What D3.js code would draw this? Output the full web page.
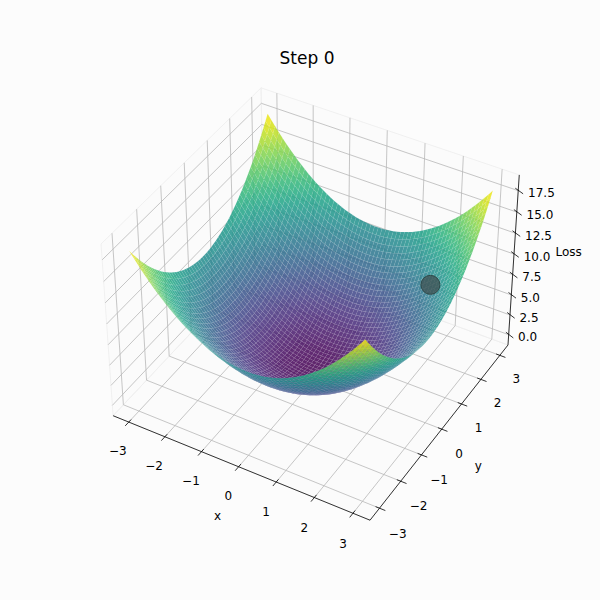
<!DOCTYPE html>
<html><head><meta charset="utf-8">
<script src="https://cdn.jsdelivr.net/npm/d3@7"></script>
<style>body{margin:0;background:#fcfcfc}svg{display:block}text{font-family:"DejaVu Sans",sans-serif}</style>
</head><body><svg id="c" width="600" height="600"></svg>
<script>
const title = "Step 0";
const xTicks = [-3,-2,-1,0,1,2,3];
const yTicks = [-3,-2,-1,0,1,2,3];
const zTicks = [0,2.5,5,7.5,10,12.5,15,17.5];
const zTickLabels = ["0.0","2.5","5.0","7.5","10.0","12.5","15.0","17.5"];
const gridX = d3.range(-3, 3.0001, 6/59);   // surface sample coordinates
const gridY = d3.range(-3, 3.0001, 6/59);
const ballPoint = [2.0, 2.0];
const lossFn = (x,y) => x*x + y*y;
const xLim = [-3.3, 3.3], yLim = [-3.3, 3.3], zLim = [-0.9, 18.9];

const svg = d3.select("#c");
svg.append("rect").attr("width",600).attr("height",600).attr("fill","#fcfcfc");

// matplotlib-like projection
const elev = 40*Math.PI/180, azim = -60*Math.PI/180, dist = 10;
const nrm = Math.hypot(4,4,3), f = 1.8294640721620434/nrm;
const box = [4*f, 4*f, 3*f];
const R = box.map(b=>b/2);
const ps = [Math.cos(elev)*Math.cos(azim), Math.cos(elev)*Math.sin(azim), Math.sin(elev)];
const eye = R.map((r,i)=>r+dist*ps[i]);
const cross=(a,b)=>[a[1]*b[2]-a[2]*b[1],a[2]*b[0]-a[0]*b[2],a[0]*b[1]-a[1]*b[0]];
const unit=a=>{const n=Math.hypot(...a);return a.map(v=>v/n);};
const w = unit(eye.map((e,i)=>e-R[i]));
const u = unit(cross([0,0,1], w));
const v = cross(w,u);
const sxN = d3.scaleLinear().domain(xLim).range([0,box[0]]);
const syN = d3.scaleLinear().domain(yLim).range([0,box[1]]);
const szN = d3.scaleLinear().domain(zLim).range([0,box[2]]);
const px = d3.scaleLinear().domain([-0.095,0.09]).range([76.5,538.5]);
const py = d3.scaleLinear().domain([-0.095,0.09]).range([534,72]);
function P(x,y,z){
  const p=[sxN(x)-eye[0], syN(y)-eye[1], szN(z)-eye[2]];
  const vx=p[0]*u[0]+p[1]*u[1]+p[2]*u[2];
  const vy=p[0]*v[0]+p[1]*v[1]+p[2]*v[2];
  const vz=p[0]*w[0]+p[1]*w[1]+p[2]*w[2];
  return [px(vx/-vz), py(vy/-vz), -vz];
}
// pane bounds
const pad = l => {const d=(l[1]-l[0])/12/4; return [l[0]-d, l[1]+d];};
const [x0,x1]=pad(xLim),[y0,y1]=pad(yLim),[z0,z1]=pad(zLim);
const line = d3.line();
const poly = pts => line(pts.map(p=>P(...p).slice(0,2)))+"Z";
// panes
const g = svg.append("g");
[[[x0,y0,z0],[x1,y0,z0],[x1,y1,z0],[x0,y1,z0]],
 [[x0,y0,z0],[x0,y1,z0],[x0,y1,z1],[x0,y0,z1]],
 [[x0,y1,z0],[x1,y1,z0],[x1,y1,z1],[x0,y1,z1]]].forEach(pp=>
  g.append("path").attr("d",poly(pp)).attr("fill","#fafafa").attr("fill-opacity",0.5).attr("stroke","#eeeeee").attr("stroke-width",0.8));
const gl=(a,b)=>g.append("path").attr("d",line([P(...a),P(...b)].map(p=>p.slice(0,2)))).attr("stroke","#b8b8b8").attr("stroke-width",0.8).attr("fill","none");
xTicks.forEach(t=>{gl([t,y0,z0],[t,y1,z0]);gl([t,y1,z0],[t,y1,z1]);});
yTicks.forEach(t=>{gl([x0,t,z0],[x1,t,z0]);gl([x0,t,z0],[x0,t,z1]);});
zTicks.forEach(t=>{gl([x0,y0,t],[x0,y1,t]);gl([x0,y1,t],[x1,y1,t]);});
// axes
const al=(a,b)=>g.append("path").attr("d",line([P(...a),P(...b)].map(p=>p.slice(0,2)))).attr("stroke","#000").attr("stroke-width",0.8).attr("fill","none");
const txt=(p,s,dx,dy)=>{const q=P(...p);g.append("text").attr("x",q[0]+dx).attr("y",q[1]+dy).attr("text-anchor","middle").attr("dominant-baseline","central").attr("font-size",12).text(s);};
al([x0,y0,z0],[x1,y0,z0]);
xTicks.forEach(t=>{al([t,y0+0.1,z0],[t,y0-0.15,z0]); txt([t,y0-0.85,z0-0.5],String(t).replace("-","−"),9,3);});
al([x1,y0,z0],[x1,y1,z0]);
yTicks.forEach(t=>{al([x1-0.1,t,z0],[x1+0.15,t,z0]); txt([x1+0.85,t,z0-0.5],String(t).replace("-","−"),-15,8);});
al([x1,y1,z0],[x1,y1,z1]);
zTicks.forEach((t,i)=>{al([x1-0.1,y1+0.05,t],[x1+0.15,y1-0.05,t]); const q=P(x1+0.2,y1,t); g.append("text").attr("x",q[0]+2).attr("y",q[1]).attr("dominant-baseline","central").attr("font-size",12).text(zTickLabels[i]);});
txt([0,y0-1.7,z0-1.5],"x",18,-8); txt([x1+1.7,0,z0-1.5],"y",-28,0);
{const q=P(x1,y1,(z0+z1)/2); g.append("text").attr("x",q[0]+42).attr("y",q[1]-10).attr("dominant-baseline","central").attr("font-size",12).text("Loss");}
// surface
const zmax = d3.max(gridX, x=>d3.max(gridY,y=>lossFn(x,y)));
const color = d3.scaleSequential(d3.interpolateViridis).domain([0,zmax]);
const quads=[];
for(let i=0;i<gridX.length-1;i++)for(let j=0;j<gridY.length-1;j++){
  const pts=[[gridX[i],gridY[j]],[gridX[i+1],gridY[j]],[gridX[i+1],gridY[j+1]],[gridX[i],gridY[j+1]]].map(([x,y])=>[x,y,lossFn(x,y)]);
  const pr=pts.map(p=>P(...p));
  quads.push({pr, z:d3.mean(pts,p=>p[2]), d:d3.mean(pr,p=>p[2])});
}
quads.sort((a,b)=>b.d-a.d);
svg.append("g").selectAll("path").data(quads).join("path")
  .attr("d",q=>line(q.pr.map(p=>p.slice(0,2)))+"Z")
  .attr("fill",q=>color(q.z)).attr("fill-opacity",0.85)
  .attr("stroke","#ffffff").attr("stroke-opacity",0.12).attr("stroke-width",0.4);
// ball
{const b=P(ballPoint[0],ballPoint[1],lossFn(...ballPoint));
 svg.append("circle").attr("cx",b[0]).attr("cy",b[1]).attr("r",9.5).attr("fill","#3f4f50").attr("fill-opacity",0.75).attr("stroke","#2f4a4a").attr("stroke-width",1);}
svg.append("text").attr("x",307).attr("y",58).attr("text-anchor","middle").attr("dominant-baseline","central").attr("font-size",17).text(title);
</script></body></html>
